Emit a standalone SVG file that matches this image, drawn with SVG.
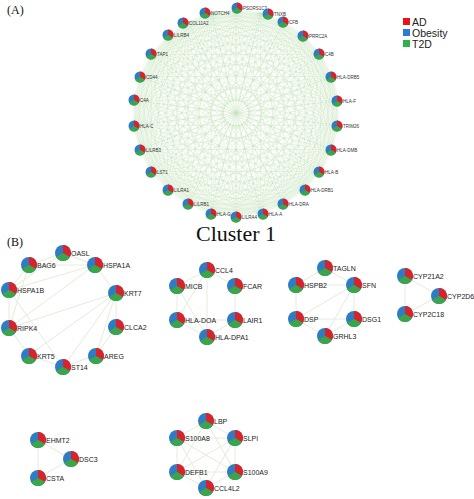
<svg xmlns="http://www.w3.org/2000/svg" xmlns:xlink="http://www.w3.org/1999/xlink" width="474" height="499" viewBox="0 0 474 499">
<style>
.l1{font-family:"Liberation Sans",Arial,sans-serif;font-size:4.5px;fill:#333}
.l2{font-family:"Liberation Sans",Arial,sans-serif;font-size:7px;fill:#222}
.ttl{font-family:"Liberation Serif","Times New Roman",serif;fill:#111}
.leg{font-family:"Liberation Sans",Arial,sans-serif;font-size:10.5px;fill:#222}
.e1{fill:none;stroke:#c4e2bb;stroke-width:0.5;stroke-opacity:0.65}
.e2{fill:none;stroke:#e4ecda;stroke-width:1}
</style>
<defs>
<symbol id="pie" viewBox="-10 -10 20 20" overflow="visible">
<circle r="10" fill="#2f7cc4"/>
<path d="M0 0 L0 -10 A10 10 0 0 1 8.66 5 Z" fill="#d9232b"/>
<path d="M0 0 L8.66 5 A10 10 0 0 1 -8.66 5 Z" fill="#3aa648"/>
</symbol>
<path id="star" d="M236 10 L260.6 13 M236 10 L283.9 21.8 M236 10 L304.3 35.9 M236 10 L320.8 54.5 M236 10 L332.3 76.5 M236 10 L338.2 100.6 M236 10 L338.2 125.4 M236 10 L332.3 149.5 M236 10 L320.8 171.5 M236 10 L304.3 190.1 M236 10 L283.9 204.2 M236 10 L260.6 213 M236 10 L236 216"/>
</defs>
<rect width="474" height="499" fill="#fff"/>
<text class="ttl" x="7" y="14" font-size="12">(A)</text>
<text class="ttl" x="7" y="246" font-size="12">(B)</text>
<text class="ttl" x="236" y="241" font-size="22" text-anchor="middle">Cluster 1</text>
<g id="legend">
<rect x="403" y="18" width="7" height="7" fill="#e8141c"/><text class="leg" x="412" y="25.5">AD</text>
<rect x="403" y="29" width="7" height="7" fill="#2a7bd5"/><text class="leg" x="412" y="36.5">Obesity</text>
<rect x="403" y="40" width="7" height="7" fill="#2db24a"/><text class="leg" x="412" y="47.5">T2D</text>
</g>
<g id="connectors">
<g class="e1">
<use href="#star" transform="rotate(0 236 113)"/>
<use href="#star" transform="rotate(13.846 236 113)"/>
<use href="#star" transform="rotate(27.692 236 113)"/>
<use href="#star" transform="rotate(41.538 236 113)"/>
<use href="#star" transform="rotate(55.385 236 113)"/>
<use href="#star" transform="rotate(69.231 236 113)"/>
<use href="#star" transform="rotate(83.077 236 113)"/>
<use href="#star" transform="rotate(96.923 236 113)"/>
<use href="#star" transform="rotate(110.769 236 113)"/>
<use href="#star" transform="rotate(124.615 236 113)"/>
<use href="#star" transform="rotate(138.462 236 113)"/>
<use href="#star" transform="rotate(152.308 236 113)"/>
<use href="#star" transform="rotate(166.154 236 113)"/>
<use href="#star" transform="rotate(180 236 113)"/>
<use href="#star" transform="rotate(193.846 236 113)"/>
<use href="#star" transform="rotate(207.692 236 113)"/>
<use href="#star" transform="rotate(221.538 236 113)"/>
<use href="#star" transform="rotate(235.385 236 113)"/>
<use href="#star" transform="rotate(249.231 236 113)"/>
<use href="#star" transform="rotate(263.077 236 113)"/>
<use href="#star" transform="rotate(276.923 236 113)"/>
<use href="#star" transform="rotate(290.769 236 113)"/>
<use href="#star" transform="rotate(304.615 236 113)"/>
<use href="#star" transform="rotate(318.462 236 113)"/>
<use href="#star" transform="rotate(332.308 236 113)"/>
<use href="#star" transform="rotate(346.154 236 113)"/>
</g>
<path class="e2" d="M63 253 L95 265 M63 253 L29 265 M29 265 L95 265 M95 265 L9 290 M63 253 L9 290 M29 265 L9 290 M95 265 L9 328 M29 265 L9 328 M9 290 L9 328 M95 265 L116 293 M116 293 L9 328 M116 293 L29 355 M116 293 L63 367 M116 293 L116 327 M116 293 L96 355 M9 328 L29 355 M29 355 L63 367 M63 367 L96 355 M116 327 L96 355 M9 290 L63 367"/>
<path class="e2" d="M207 270 L177 286 M207 270 L235 286 M207 270 L207 337 M207 270 L177 320 M177 286 L177 320 M177 286 L207 337 M235 286 L235 320 M177 320 L207 337 M207 337 L235 320 M177 320 L235 320"/>
<path class="e2" d="M325 268 L296 285 M325 268 L354 285 M296 285 L354 285 M296 285 L296 319 M354 285 L296 319 M354 285 L354 319 M296 319 L354 319 M296 319 L325 336 M354 319 L325 336 M354 285 L325 336"/>
<path class="e2" d="M405 276 L439 296 L405 314 Z"/>
<path class="e2" d="M38 440 L71 459 L38 478 Z"/>
<path class="e2" d="M206 421 L177 438 M206 421 L235 438 M177 438 L235 438 M177 438 L177 472 M235 438 L235 472 M177 472 L235 472 M177 472 L206 488 M235 472 L206 488 M206 421 L177 472 M206 421 L235 472 M177 438 L235 472 M235 438 L177 472 M177 438 L206 488 M235 438 L206 488"/>
</g>
<g id="n-COL11A2"><use href="#pie" x="177.5" y="17.5" width="11" height="11"/><text class="l1" x="189" y="24.6">COL11A2</text></g>
<g id="n-NOTCH4"><use href="#pie" x="199.5" y="7.5" width="11" height="11"/><text class="l1" x="211" y="14.6">NOTCH4</text></g>
<g id="n-PSORS1C3"><use href="#pie" x="231.5" y="2.5" width="11" height="11"/><text class="l1" x="243" y="9.6">PSORS1C3</text></g>
<g id="n-TNXB"><use href="#pie" x="262.5" y="8.5" width="11" height="11"/><text class="l1" x="274" y="15.6">TNXB</text></g>
<g id="n-CFB"><use href="#pie" x="277.5" y="16.5" width="11" height="11"/><text class="l1" x="289" y="23.6">CFB</text></g>
<g id="n-PRRC2A"><use href="#pie" x="297.5" y="30.5" width="11" height="11"/><text class="l1" x="309" y="37.6">PRRC2A</text></g>
<g id="n-C4B"><use href="#pie" x="313.5" y="48.5" width="11" height="11"/><text class="l1" x="325" y="55.6">C4B</text></g>
<g id="n-HLA-DRB5"><use href="#pie" x="325.5" y="71.5" width="11" height="11"/><text class="l1" x="337" y="78.6">HLA-DRB5</text></g>
<g id="n-HLA-F"><use href="#pie" x="331.5" y="95.5" width="11" height="11"/><text class="l1" x="343" y="102.6">HLA-F</text></g>
<g id="n-TRIM26"><use href="#pie" x="331.5" y="120.5" width="11" height="11"/><text class="l1" x="343" y="127.6">TRIM26</text></g>
<g id="n-HLA-DMB"><use href="#pie" x="325.5" y="144.5" width="11" height="11"/><text class="l1" x="337" y="151.6">HLA-DMB</text></g>
<g id="n-HLA-B"><use href="#pie" x="313.5" y="166.5" width="11" height="11"/><text class="l1" x="325" y="173.6">HLA-B</text></g>
<g id="n-HLA-DRB1"><use href="#pie" x="299.5" y="184.5" width="11" height="11"/><text class="l1" x="311" y="191.6">HLA-DRB1</text></g>
<g id="n-LILRB1"><use href="#pie" x="182.5" y="198.5" width="11" height="11"/><text class="l1" x="194" y="205.6">LILRB1</text></g>
<g id="n-HLA-G"><use href="#pie" x="205.5" y="208.5" width="11" height="11"/><text class="l1" x="217" y="215.6">HLA-G</text></g>
<g id="n-LILRA4"><use href="#pie" x="230.5" y="211.5" width="11" height="11"/><text class="l1" x="242" y="218.6">LILRA4</text></g>
<g id="n-HLA-A"><use href="#pie" x="257.5" y="208.5" width="11" height="11"/><text class="l1" x="269" y="215.6">HLA-A</text></g>
<g id="n-HLA-DRA"><use href="#pie" x="277.5" y="198.5" width="11" height="11"/><text class="l1" x="289" y="205.6">HLA-DRA</text></g>
<g id="n-LILRA1"><use href="#pie" x="162.5" y="184.5" width="11" height="11"/><text class="l1" x="174" y="191.6">LILRA1</text></g>
<g id="n-LST1"><use href="#pie" x="145.5" y="166.5" width="11" height="11"/><text class="l1" x="157" y="173.6">LST1</text></g>
<g id="n-LILRB3"><use href="#pie" x="134.5" y="144.5" width="11" height="11"/><text class="l1" x="146" y="151.6">LILRB3</text></g>
<g id="n-HLA-C"><use href="#pie" x="128.5" y="120.5" width="11" height="11"/><text class="l1" x="140" y="127.6">HLA-C</text></g>
<g id="n-C4A"><use href="#pie" x="128.5" y="94.5" width="11" height="11"/><text class="l1" x="140" y="101.6">C4A</text></g>
<g id="n-CD44"><use href="#pie" x="134.5" y="71.5" width="11" height="11"/><text class="l1" x="146" y="78.6">CD44</text></g>
<g id="n-TAP1"><use href="#pie" x="145.5" y="48.5" width="11" height="11"/><text class="l1" x="157" y="55.6">TAP1</text></g>
<g id="n-LILRB4"><use href="#pie" x="162.5" y="29.5" width="11" height="11"/><text class="l1" x="174" y="36.6">LILRB4</text></g>
<g id="n-OASL"><use href="#pie" x="55" y="245" width="16" height="16"/><text class="l2" x="71" y="255.5">OASL</text></g>
<g id="n-BAG6"><use href="#pie" x="21" y="257" width="16" height="16"/><text class="l2" x="37" y="267.5">BAG6</text></g>
<g id="n-HSPA1A"><use href="#pie" x="87" y="257" width="16" height="16"/><text class="l2" x="103" y="267.5">HSPA1A</text></g>
<g id="n-HSPA1B"><use href="#pie" x="1" y="282" width="16" height="16"/><text class="l2" x="17" y="292.5">HSPA1B</text></g>
<g id="n-KRT7"><use href="#pie" x="108" y="285" width="16" height="16"/><text class="l2" x="124" y="295.5">KRT7</text></g>
<g id="n-RIPK4"><use href="#pie" x="1" y="320" width="16" height="16"/><text class="l2" x="17" y="330.5">RIPK4</text></g>
<g id="n-CLCA2"><use href="#pie" x="108" y="319" width="16" height="16"/><text class="l2" x="124" y="329.5">CLCA2</text></g>
<g id="n-KRT5"><use href="#pie" x="21" y="348" width="16" height="16"/><text class="l2" x="37" y="358.5">KRT5</text></g>
<g id="n-AREG"><use href="#pie" x="88" y="348" width="16" height="16"/><text class="l2" x="104" y="358.5">AREG</text></g>
<g id="n-ST14"><use href="#pie" x="55" y="359" width="16" height="16"/><text class="l2" x="71" y="369.5">ST14</text></g>
<g id="n-CCL4"><use href="#pie" x="199" y="262" width="16" height="16"/><text class="l2" x="215" y="272.5">CCL4</text></g>
<g id="n-MICB"><use href="#pie" x="169" y="278" width="16" height="16"/><text class="l2" x="185" y="288.5">MICB</text></g>
<g id="n-FCAR"><use href="#pie" x="227" y="278" width="16" height="16"/><text class="l2" x="243" y="288.5">FCAR</text></g>
<g id="n-HLA-DOA"><use href="#pie" x="169" y="312" width="16" height="16"/><text class="l2" x="185" y="322.5">HLA-DOA</text></g>
<g id="n-LAIR1"><use href="#pie" x="227" y="312" width="16" height="16"/><text class="l2" x="243" y="322.5">LAIR1</text></g>
<g id="n-HLA-DPA1"><use href="#pie" x="199" y="329" width="16" height="16"/><text class="l2" x="215" y="339.5">HLA-DPA1</text></g>
<g id="n-TAGLN"><use href="#pie" x="317" y="260" width="16" height="16"/><text class="l2" x="333" y="270.5">TAGLN</text></g>
<g id="n-HSPB2"><use href="#pie" x="288" y="277" width="16" height="16"/><text class="l2" x="304" y="287.5">HSPB2</text></g>
<g id="n-SFN"><use href="#pie" x="346" y="277" width="16" height="16"/><text class="l2" x="362" y="287.5">SFN</text></g>
<g id="n-DSP"><use href="#pie" x="288" y="311" width="16" height="16"/><text class="l2" x="304" y="321.5">DSP</text></g>
<g id="n-DSG1"><use href="#pie" x="346" y="311" width="16" height="16"/><text class="l2" x="362" y="321.5">DSG1</text></g>
<g id="n-GRHL3"><use href="#pie" x="317" y="328" width="16" height="16"/><text class="l2" x="333" y="338.5">GRHL3</text></g>
<g id="n-CYP21A2"><use href="#pie" x="397" y="268" width="16" height="16"/><text class="l2" x="413" y="278.5">CYP21A2</text></g>
<g id="n-CYP2D6"><use href="#pie" x="431" y="288" width="16" height="16"/><text class="l2" x="447" y="298.5">CYP2D6</text></g>
<g id="n-CYP2C18"><use href="#pie" x="397" y="306" width="16" height="16"/><text class="l2" x="413" y="316.5">CYP2C18</text></g>
<g id="n-EHMT2"><use href="#pie" x="30" y="432" width="16" height="16"/><text class="l2" x="46" y="442.5">EHMT2</text></g>
<g id="n-DSC3"><use href="#pie" x="63" y="451" width="16" height="16"/><text class="l2" x="79" y="461.5">DSC3</text></g>
<g id="n-CSTA"><use href="#pie" x="30" y="470" width="16" height="16"/><text class="l2" x="46" y="480.5">CSTA</text></g>
<g id="n-LBP"><use href="#pie" x="198" y="413" width="16" height="16"/><text class="l2" x="214" y="423.5">LBP</text></g>
<g id="n-S100A8"><use href="#pie" x="169" y="430" width="16" height="16"/><text class="l2" x="185" y="440.5">S100A8</text></g>
<g id="n-SLPI"><use href="#pie" x="227" y="430" width="16" height="16"/><text class="l2" x="243" y="440.5">SLPI</text></g>
<g id="n-DEFB1"><use href="#pie" x="169" y="464" width="16" height="16"/><text class="l2" x="185" y="474.5">DEFB1</text></g>
<g id="n-S100A9"><use href="#pie" x="227" y="464" width="16" height="16"/><text class="l2" x="243" y="474.5">S100A9</text></g>
<g id="n-CCL4L2"><use href="#pie" x="198" y="480" width="16" height="16"/><text class="l2" x="214" y="490.5">CCL4L2</text></g>
</svg>
